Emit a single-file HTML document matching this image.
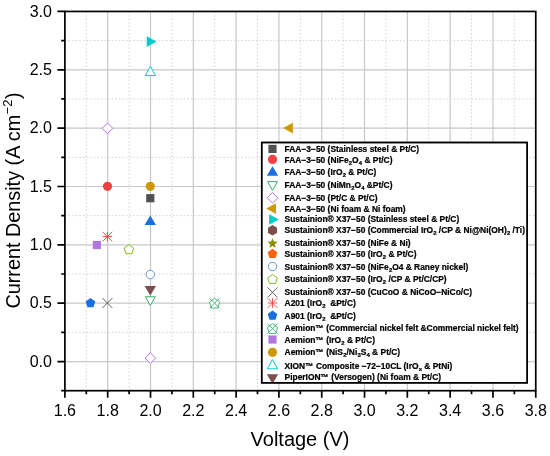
<!DOCTYPE html>
<html><head><meta charset="utf-8"><title>Current density vs voltage</title>
<style>html,body{margin:0;padding:0;background:#fff;}svg{display:block;}</style>
</head><body>
<svg width="550" height="456" viewBox="0 0 550 456"><rect width="550" height="456" fill="#fff"/><path d="M86.30,11.45V390.70M129.11,11.45V390.70M171.91,11.45V390.70M214.72,11.45V390.70M257.52,11.45V390.70M300.33,11.45V390.70M343.13,11.45V390.70M385.93,11.45V390.70M428.74,11.45V390.70M471.54,11.45V390.70M514.35,11.45V390.70M64.90,40.62H535.75M64.90,98.97H535.75M64.90,157.32H535.75M64.90,215.66H535.75M64.90,274.01H535.75M64.90,332.35H535.75M64.90,390.70H535.75" stroke="#d2d2d2" stroke-width="1" stroke-dasharray="1.5,2.1" fill="none"/><path d="M107.70,11.45V390.70M150.51,11.45V390.70M193.31,11.45V390.70M236.12,11.45V390.70M278.92,11.45V390.70M321.73,11.45V390.70M364.53,11.45V390.70M407.34,11.45V390.70M450.14,11.45V390.70M492.95,11.45V390.70M64.90,69.80H535.75M64.90,128.14H535.75M64.90,186.49H535.75M64.90,244.83H535.75M64.90,303.18H535.75M64.90,361.53H535.75" stroke="#c8c8c8" stroke-width="1.2" fill="none"/><rect x="146.20" y="194.10" width="8.20" height="8.20" fill="#515151"/><circle cx="107.50" cy="186.30" r="4.60" fill="#F14040"/><polygon points="150.30,215.50 156.00,225.10 144.60,225.10" fill="#1A6FDF"/><polygon points="150.30,305.45 155.30,296.75 145.30,296.75" fill="#fff" stroke="#37AD6B" stroke-width="1"/><polygon points="107.50,123.00 112.80,128.30 107.50,133.60 102.20,128.30" fill="#fff" stroke="#B177DE" stroke-width="1"/><polygon points="150.35,352.80 155.65,358.10 150.35,363.40 145.05,358.10" fill="#fff" stroke="#B177DE" stroke-width="1"/><polygon points="283.15,128.10 292.85,122.80 292.85,133.40" fill="#CC9900"/><polygon points="156.45,41.60 146.75,36.30 146.75,46.90" fill="#00CBCC"/><circle cx="150.30" cy="274.60" r="4.20" fill="#fff" stroke="#6699CC" stroke-width="1"/><polygon points="128.90,244.70 133.66,248.15 131.84,253.75 125.96,253.75 124.14,248.15" fill="#fff" stroke="#6FB802" stroke-width="0.9"/><path d="M102.40,298.00L112.40,308.00M112.40,298.00L102.40,308.00" stroke="#515151" stroke-width="0.9" fill="none"/><path d="M102.60,236.60H112.20M107.40,231.80V241.40M102.60,231.80L112.20,241.40M112.20,231.80L102.60,241.40" stroke="#F14040" stroke-width="0.9" fill="none"/><polygon points="90.50,298.10 95.35,301.62 93.50,307.33 87.50,307.33 85.65,301.62" fill="#1A6FDF"/><polygon points="214.60,298.30 219.74,302.03 217.77,308.07 211.43,308.07 209.46,302.03" fill="#fff" stroke="#37AD6B" stroke-width="0.9"/><path d="M209.60,298.20L219.60,308.20M219.60,298.20L209.60,308.20" stroke="#37AD6B" stroke-width="0.9" fill="none"/><rect x="92.80" y="240.90" width="8.20" height="8.20" fill="#B177DE"/><circle cx="150.30" cy="186.30" r="4.60" fill="#CC9900"/><polygon points="150.40,66.40 155.50,75.60 145.30,75.60" fill="#fff" stroke="#00CBCC" stroke-width="1"/><polygon points="150.30,295.50 156.00,285.90 144.60,285.90" fill="#7D4E4E"/><rect x="64.90" y="11.45" width="470.85" height="379.25" fill="none" stroke="#000" stroke-width="1.7"/><path d="M64.90,390.70V397.80M107.70,390.70V397.80M150.51,390.70V397.80M193.31,390.70V397.80M236.12,390.70V397.80M278.92,390.70V397.80M321.73,390.70V397.80M364.53,390.70V397.80M407.34,390.70V397.80M450.14,390.70V397.80M492.95,390.70V397.80M535.75,390.70V397.80M86.30,390.70V394.20M129.11,390.70V394.20M171.91,390.70V394.20M214.72,390.70V394.20M257.52,390.70V394.20M300.33,390.70V394.20M343.13,390.70V394.20M385.93,390.70V394.20M428.74,390.70V394.20M471.54,390.70V394.20M514.35,390.70V394.20M64.90,11.45H57.40M64.90,69.80H57.40M64.90,128.14H57.40M64.90,186.49H57.40M64.90,244.83H57.40M64.90,303.18H57.40M64.90,361.53H57.40M64.90,40.62H61.20M64.90,98.97H61.20M64.90,157.32H61.20M64.90,215.66H61.20M64.90,274.01H61.20M64.90,332.35H61.20M64.90,390.70H61.20" stroke="#000" stroke-width="1.7" fill="none"/><text x="64.90" y="415.9" font-family="Liberation Sans, Arial, sans-serif" font-size="16" text-anchor="middle">1.6</text><text x="107.70" y="415.9" font-family="Liberation Sans, Arial, sans-serif" font-size="16" text-anchor="middle">1.8</text><text x="150.51" y="415.9" font-family="Liberation Sans, Arial, sans-serif" font-size="16" text-anchor="middle">2.0</text><text x="193.31" y="415.9" font-family="Liberation Sans, Arial, sans-serif" font-size="16" text-anchor="middle">2.2</text><text x="236.12" y="415.9" font-family="Liberation Sans, Arial, sans-serif" font-size="16" text-anchor="middle">2.4</text><text x="278.92" y="415.9" font-family="Liberation Sans, Arial, sans-serif" font-size="16" text-anchor="middle">2.6</text><text x="321.73" y="415.9" font-family="Liberation Sans, Arial, sans-serif" font-size="16" text-anchor="middle">2.8</text><text x="364.53" y="415.9" font-family="Liberation Sans, Arial, sans-serif" font-size="16" text-anchor="middle">3.0</text><text x="407.34" y="415.9" font-family="Liberation Sans, Arial, sans-serif" font-size="16" text-anchor="middle">3.2</text><text x="450.14" y="415.9" font-family="Liberation Sans, Arial, sans-serif" font-size="16" text-anchor="middle">3.4</text><text x="492.95" y="415.9" font-family="Liberation Sans, Arial, sans-serif" font-size="16" text-anchor="middle">3.6</text><text x="535.75" y="415.9" font-family="Liberation Sans, Arial, sans-serif" font-size="16" text-anchor="middle">3.8</text><text x="51.9" y="16.55" font-family="Liberation Sans, Arial, sans-serif" font-size="16" text-anchor="end">3.0</text><text x="51.9" y="74.90" font-family="Liberation Sans, Arial, sans-serif" font-size="16" text-anchor="end">2.5</text><text x="51.9" y="133.24" font-family="Liberation Sans, Arial, sans-serif" font-size="16" text-anchor="end">2.0</text><text x="51.9" y="191.59" font-family="Liberation Sans, Arial, sans-serif" font-size="16" text-anchor="end">1.5</text><text x="51.9" y="249.93" font-family="Liberation Sans, Arial, sans-serif" font-size="16" text-anchor="end">1.0</text><text x="51.9" y="308.28" font-family="Liberation Sans, Arial, sans-serif" font-size="16" text-anchor="end">0.5</text><text x="51.9" y="366.63" font-family="Liberation Sans, Arial, sans-serif" font-size="16" text-anchor="end">0.0</text><text x="300" y="446.2" font-family="Liberation Sans, Arial, sans-serif" font-size="20" text-anchor="middle">Voltage (V)</text><text transform="translate(19.9,308.6) rotate(-90)" x="0" y="0" font-family="Liberation Sans, Arial, sans-serif" font-size="19.82">Current Density (A cm<tspan dx="0.4" dy="-8.3" font-size="13">−2</tspan><tspan dx="0.6" dy="8.3">)</tspan></text><rect x="261.7" y="142.5" width="265.5" height="240.3" fill="#fff" stroke="#000" stroke-width="1.5"/><svg x="261.7" y="142.5" width="265.5" height="240.3" overflow="hidden"><g transform="translate(-261.7,-142.5)"><rect x="268.40" y="144.80" width="8.20" height="8.20" fill="#515151"/><text x="284.6" y="151.85" font-family="Liberation Sans, Arial, sans-serif" font-weight="bold" font-size="8.42" fill="#000" stroke="#000" stroke-width="0.22" style="white-space:pre">FAA−3−50 (Stainless steel &amp; Pt/C)</text><circle cx="272.50" cy="159.40" r="4.60" fill="#F14040"/><text x="284.6" y="162.65" font-family="Liberation Sans, Arial, sans-serif" font-weight="bold" font-size="8.42" fill="#000" stroke="#000" stroke-width="0.22" style="white-space:pre">FAA−3−50 (NiFe<tspan dx="0.2" dy="2.2" font-size="5.89">2</tspan><tspan dy="-2.2">O</tspan><tspan dx="0.2" dy="2.2" font-size="5.89">4</tspan><tspan dy="-2.2"> &amp; Pt/C)</tspan></text><polygon points="272.50,166.20 278.20,175.80 266.80,175.80" fill="#1A6FDF"/><text x="284.6" y="175.05" font-family="Liberation Sans, Arial, sans-serif" font-weight="bold" font-size="8.42" fill="#000" stroke="#000" stroke-width="0.22" style="white-space:pre">FAA−3−50 (IrO<tspan dx="0.2" dy="2.2" font-size="5.89">2</tspan><tspan dy="-2.2"> &amp; Pt/C)</tspan></text><polygon points="272.50,190.35 277.50,181.65 267.50,181.65" fill="#fff" stroke="#37AD6B" stroke-width="1"/><text x="284.6" y="188.05" font-family="Liberation Sans, Arial, sans-serif" font-weight="bold" font-size="8.42" fill="#000" stroke="#000" stroke-width="0.22" style="white-space:pre">FAA−3−50 (NiMn<tspan dx="0.2" dy="2.2" font-size="5.89">2</tspan><tspan dy="-2.2">O</tspan><tspan dx="0.2" dy="2.2" font-size="5.89">4</tspan><tspan dy="-2.2"> &amp;Pt/C)</tspan></text><polygon points="272.50,192.50 277.80,197.80 272.50,203.10 267.20,197.80" fill="#fff" stroke="#B177DE" stroke-width="1"/><text x="284.6" y="200.65" font-family="Liberation Sans, Arial, sans-serif" font-weight="bold" font-size="8.42" fill="#000" stroke="#000" stroke-width="0.22" style="white-space:pre">FAA−3−50 (Pt/C &amp; Pt/C)</text><polygon points="266.25,208.60 275.95,203.30 275.95,213.90" fill="#CC9900"/><text x="284.6" y="211.65" font-family="Liberation Sans, Arial, sans-serif" font-weight="bold" font-size="8.42" fill="#000" stroke="#000" stroke-width="0.22" style="white-space:pre">FAA−3−50 (Ni foam &amp; Ni foam)</text><polygon points="278.85,219.50 269.15,214.20 269.15,224.80" fill="#00CBCC"/><text x="284.6" y="222.35" font-family="Liberation Sans, Arial, sans-serif" font-weight="bold" font-size="8.42" fill="#000" stroke="#000" stroke-width="0.22" style="white-space:pre">Sustainion® X37−50 (Stainless steel &amp; Pt/C)</text><polygon points="272.50,225.10 277.00,227.70 277.00,232.90 272.50,235.50 268.00,232.90 268.00,227.70" fill="#7D4E4E"/><text x="284.6" y="233.15" font-family="Liberation Sans, Arial, sans-serif" font-weight="bold" font-size="8.42" fill="#000" stroke="#000" stroke-width="0.22" style="white-space:pre">Sustainion® X37−50 (Commercial IrO<tspan dx="0.2" dy="2.2" font-size="5.89">2</tspan><tspan dy="-2.2"> /CP &amp; Ni@Ni(OH)</tspan><tspan dx="0.2" dy="2.2" font-size="5.89">2</tspan><tspan dy="-2.2"> /Ti)</tspan></text><polygon points="272.50,238.10 273.93,241.53 277.64,241.83 274.81,244.25 275.67,247.87 272.50,245.93 269.33,247.87 270.19,244.25 267.36,241.83 271.07,241.53" fill="#8E8E00"/><text x="284.6" y="246.05" font-family="Liberation Sans, Arial, sans-serif" font-weight="bold" font-size="8.42" fill="#000" stroke="#000" stroke-width="0.22" style="white-space:pre">Sustainion® X37−50 (NiFe &amp; Ni)</text><polygon points="272.50,248.80 277.35,252.32 275.50,258.03 269.50,258.03 267.65,252.32" fill="#FB6501"/><text x="284.6" y="256.65" font-family="Liberation Sans, Arial, sans-serif" font-weight="bold" font-size="8.42" fill="#000" stroke="#000" stroke-width="0.22" style="white-space:pre">Sustainion® X37−50 (IrO<tspan dx="0.2" dy="2.2" font-size="5.89">2</tspan><tspan dy="-2.2"> &amp; Pt/C)</tspan></text><circle cx="272.50" cy="266.50" r="4.20" fill="#fff" stroke="#6699CC" stroke-width="1"/><text x="284.6" y="270.05" font-family="Liberation Sans, Arial, sans-serif" font-weight="bold" font-size="8.42" fill="#000" stroke="#000" stroke-width="0.22" style="white-space:pre">Sustainion® X37−50 (NiFe<tspan dx="0.2" dy="2.2" font-size="5.89">2</tspan><tspan dy="-2.2">O4 &amp; Raney nickel)</tspan></text><polygon points="272.50,274.40 277.26,277.85 275.44,283.45 269.56,283.45 267.74,277.85" fill="#fff" stroke="#6FB802" stroke-width="0.9"/><text x="284.6" y="282.15" font-family="Liberation Sans, Arial, sans-serif" font-weight="bold" font-size="8.42" fill="#000" stroke="#000" stroke-width="0.22" style="white-space:pre">Sustainion® X37−50 (IrO<tspan dx="0.2" dy="2.2" font-size="5.89">2</tspan><tspan dy="-2.2"> /CP &amp; Pt/C/CP)</tspan></text><path d="M267.50,287.40L277.50,297.40M277.50,287.40L267.50,297.40" stroke="#515151" stroke-width="0.9" fill="none"/><text x="284.6" y="295.05" font-family="Liberation Sans, Arial, sans-serif" font-weight="bold" font-size="8.42" fill="#000" stroke="#000" stroke-width="0.22" style="white-space:pre">Sustainion® X37−50 (CuCoO &amp; NiCoO−NiCo/C)</text><path d="M267.70,303.00H277.30M272.50,298.20V307.80M267.70,298.20L277.30,307.80M277.30,298.20L267.70,307.80" stroke="#F14040" stroke-width="0.9" fill="none"/><text x="284.6" y="306.05" font-family="Liberation Sans, Arial, sans-serif" font-weight="bold" font-size="8.42" fill="#000" stroke="#000" stroke-width="0.22" style="white-space:pre">A201 (IrO<tspan dx="0.2" dy="2.2" font-size="5.89">2</tspan><tspan dy="-2.2">  &amp;Pt/C)</tspan></text><polygon points="272.50,310.50 277.35,314.02 275.50,319.73 269.50,319.73 267.65,314.02" fill="#1A6FDF"/><text x="284.6" y="318.75" font-family="Liberation Sans, Arial, sans-serif" font-weight="bold" font-size="8.42" fill="#000" stroke="#000" stroke-width="0.22" style="white-space:pre">A901 (IrO<tspan dx="0.2" dy="2.2" font-size="5.89">2</tspan><tspan dy="-2.2">  &amp;Pt/C)</tspan></text><polygon points="272.50,323.70 277.64,327.43 275.67,333.47 269.33,333.47 267.36,327.43" fill="#fff" stroke="#37AD6B" stroke-width="0.9"/><path d="M267.50,323.60L277.50,333.60M277.50,323.60L267.50,333.60" stroke="#37AD6B" stroke-width="0.9" fill="none"/><text x="284.6" y="331.45" font-family="Liberation Sans, Arial, sans-serif" font-weight="bold" font-size="8.42" fill="#000" stroke="#000" stroke-width="0.22" style="white-space:pre">Aemion™ (Commercial nickel felt &amp;Commercial nickel felt)</text><rect x="268.40" y="335.40" width="8.20" height="8.20" fill="#B177DE"/><text x="284.6" y="342.55" font-family="Liberation Sans, Arial, sans-serif" font-weight="bold" font-size="8.42" fill="#000" stroke="#000" stroke-width="0.22" style="white-space:pre">Aemion™ (IrO<tspan dx="0.2" dy="2.2" font-size="5.89">2</tspan><tspan dy="-2.2"> &amp; Pt/C)</tspan></text><circle cx="272.50" cy="352.30" r="4.60" fill="#CC9900"/><text x="284.6" y="355.15" font-family="Liberation Sans, Arial, sans-serif" font-weight="bold" font-size="8.42" fill="#000" stroke="#000" stroke-width="0.22" style="white-space:pre">Aemion™ (NiS<tspan dx="0.2" dy="2.2" font-size="5.89">2</tspan><tspan dy="-2.2">/Ni</tspan><tspan dx="0.2" dy="2.2" font-size="5.89">3</tspan><tspan dy="-2.2">S</tspan><tspan dx="0.2" dy="2.2" font-size="5.89">4</tspan><tspan dy="-2.2"> &amp; Pt/C)</tspan></text><polygon points="272.50,359.60 277.60,368.80 267.40,368.80" fill="#fff" stroke="#00CBCC" stroke-width="1"/><text x="284.6" y="368.55" font-family="Liberation Sans, Arial, sans-serif" font-weight="bold" font-size="8.42" fill="#000" stroke="#000" stroke-width="0.22" style="white-space:pre">XION™ Composite −72−10CL (IrO<tspan dx="0.2" dy="2.2" font-size="5.89">x</tspan><tspan dy="-2.2"> &amp; PtNi)</tspan></text><polygon points="272.50,383.80 278.20,374.20 266.80,374.20" fill="#7D4E4E"/><text x="284.6" y="380.35" font-family="Liberation Sans, Arial, sans-serif" font-weight="bold" font-size="8.42" fill="#000" stroke="#000" stroke-width="0.22" style="white-space:pre">PiperION™ (Versogen) (Ni foam &amp; Pt/C)</text></g></svg><rect x="261.7" y="142.5" width="265.5" height="240.3" fill="none" stroke="#000" stroke-width="1.5"/></svg>
</body></html>
